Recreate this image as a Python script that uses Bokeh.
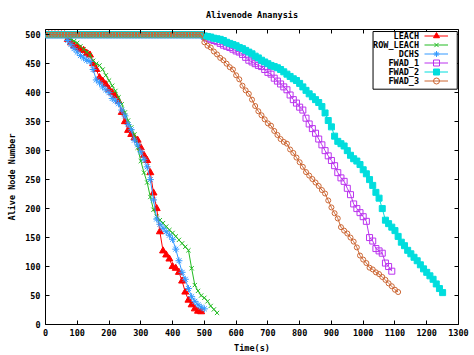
from bokeh.plotting import figure
from bokeh.models import (Range1d, LinearAxis, Legend, LegendItem, Label,
                          BoxAnnotation, FixedTicker, CustomJSTickFormatter)
from bokeh.embed import file_html
from bokeh.resources import INLINE

# ---------------- data ----------------
flat_6 = [500, 500, 500, 500, 500, 500]
flat_50 = [500, 500, 500, 500, 500, 500, 500, 500, 500, 500,
           500, 500, 500, 500, 500, 500, 500, 500, 500, 500,
           500, 500, 500, 500, 500, 500, 500, 500, 500, 500,
           500, 500, 500, 500, 500, 500, 500, 500, 500, 500,
           500, 500, 500, 500, 500, 500, 500, 500, 500, 500]

leach_alive = flat_6 + [500, 492, 486, 481, 478, 475, 473, 468, 465, 450,
                        440, 426, 420, 414, 406, 400, 395, 385, 366, 350,
                        335, 328, 322, 318, 305, 292, 283, 262, 227, 200,
                        160, 127, 120, 113, 100, 97, 90, 75, 56, 42,
                        34, 27, 23, 22]
row_leach_alive = flat_6 + [500, 496, 492, 489, 486, 480, 475, 470, 465, 455,
                            450, 447, 440, 430, 421, 412, 403, 392, 380, 366,
                            352, 340, 328, 305, 282, 262, 245, 220, 198, 186,
                            180, 175, 169, 163, 158, 152, 146, 140, 134, 128,
                            97, 68, 58, 50, 46, 40, 32, 26, 20]
dchs_alive = flat_6 + [500, 490, 483, 476, 470, 464, 460, 456, 454, 440,
                       422, 417, 410, 405, 400, 390, 386, 381, 370, 360,
                       345, 336, 318, 310, 298, 285, 272, 250, 215, 182,
                       173, 166, 160, 154, 147, 130, 110, 90, 78, 62,
                       48, 40, 34, 30, 27]
fwad1_alive = flat_50 + [497, 494, 492, 490, 488, 485, 482, 480, 478, 475,
                         472, 470, 466, 461, 456, 453, 450, 447, 445, 440,
                         435, 432, 425, 420, 415, 410, 405, 396, 388, 382,
                         375, 370, 356, 346, 338, 330, 320, 310, 300, 291,
                         283, 274, 262, 253, 247, 235, 224, 208, 200, 193,
                         186, 178, 150, 144, 131, 127, 123, 106, 100, 92]
fwad2_alive = flat_50 + [498, 497, 496, 494, 493, 492, 490, 487, 485, 483,
                         481, 478, 476, 473, 470, 467, 463, 460, 456, 453,
                         450, 447, 445, 443, 440, 436, 432, 428, 424, 421,
                         416, 410, 404, 398, 393, 388, 383, 376, 365, 352,
                         341, 325, 316, 312, 308, 300, 292, 286, 282, 276,
                         267, 260, 250, 240, 228, 218, 200, 180, 174, 168,
                         162, 152, 142, 136, 128, 122, 116, 110, 103, 96,
                         90, 84, 78, 70, 62, 55]
fwad3_alive = flat_50 + [487, 481, 478, 471, 466, 460, 456, 450, 444, 440,
                         430, 423, 412, 404, 398, 388, 377, 368, 361, 354,
                         347, 343, 334, 327, 320, 315, 312, 302, 296, 288,
                         280, 272, 263, 257, 251, 245, 239, 232, 226, 214,
                         202, 192, 183, 168, 162, 157, 150, 143, 133, 119,
                         112, 106, 98, 95, 90, 87, 82, 77, 71, 66,
                         60, 56]

sample_step = 10  # seconds between samples
chart_title = "Alivenode Ananysis"
series_names = ["LEACH", "ROW_LEACH", "DCHS", "FWAD_1", "FWAD_2", "FWAD_3"]
series_values = [leach_alive, row_leach_alive, dchs_alive,
                 fwad1_alive, fwad2_alive, fwad3_alive]
x_ticks = [0, 100, 200, 300, 400, 500, 600, 700, 800, 900, 1000, 1100, 1200, 1300]
y_ticks = [0, 50, 100, 150, 200, 250, 300, 350, 400, 450, 500]

# ---------------- styles ----------------
colors = ["#ff0000", "#22bb22", "#3399ff", "#bb33ee", "#00dddd", "#cc6633"]
markers = ["triangle", "x", "asterisk", "square", "square", "circle"]
sizes = [7, 6, 7, 6, 6, 5]
filled = [True, False, False, False, True, False]

FONT = "DejaVu Sans Mono"

p = figure(width=474, height=355, x_range=Range1d(0, 1300), y_range=Range1d(0, 509),
           output_backend="svg", toolbar_location=None,
           min_border_left=45, min_border_right=16, min_border_top=29, min_border_bottom=29)

p.grid.visible = False
p.outline_line_color = "black"
p.outline_line_width = 1
p.outline_line_alpha = 1

for ax in (p.xaxis[0], p.yaxis[0]):
    ax.axis_line_color = None
    ax.major_tick_in = 4
    ax.major_tick_out = 0
    ax.minor_tick_line_color = None
    ax.major_tick_line_color = "black"
    ax.major_label_text_font = FONT
    ax.major_label_text_font_size = "8.5px"
    ax.major_label_text_font_style = "bold"
    ax.major_label_text_color = "black"
    ax.axis_label_text_font = FONT
    ax.axis_label_text_font_size = "8.5px"
    ax.axis_label_text_font_style = "bold"
    ax.axis_label_text_color = "black"

p.xaxis[0].ticker = FixedTicker(ticks=x_ticks)
p.yaxis[0].ticker = FixedTicker(ticks=y_ticks)
p.xaxis[0].axis_label = "Time(s)"
p.yaxis[0].axis_label = "Alive Node Number"
p.xaxis[0].major_label_standoff = 4
p.yaxis[0].major_label_standoff = 5
p.xaxis[0].axis_label_standoff = 4
p.yaxis[0].axis_label_standoff = 5

# mirrored tick marks on top and right; the top one also carries the title
for loc, ticks in (("above", x_ticks), ("right", y_ticks)):
    ax = LinearAxis(ticker=FixedTicker(ticks=ticks),
                    formatter=CustomJSTickFormatter(code="return ''"))
    ax.axis_line_color = None
    ax.major_tick_in = 4
    ax.major_tick_out = 0
    ax.minor_tick_line_color = None
    ax.major_label_standoff = 0
    ax.major_label_text_font_size = "1px"
    if loc == "above":
        ax.axis_label = chart_title
        ax.axis_label_standoff = 10
        ax.axis_label_text_font = FONT
        ax.axis_label_text_font_size = "8.5px"
        ax.axis_label_text_font_style = "bold"
        ax.axis_label_text_color = "black"
    p.add_layout(ax, loc)

items = []
for name, vals, c, m, s, f in zip(series_names, series_values, colors, markers, sizes, filled):
    xs = [i * sample_step for i in range(len(vals))]
    ln = p.line(xs, vals, line_color=c, line_width=1)
    sc = p.scatter(xs, vals, marker=m, size=s, line_color=c, line_width=1,
                   fill_color=c if f else None)
    items.append(LegendItem(label=" ", renderers=[ln, sc]))

# legend box
box = BoxAnnotation(left=1031, right=1296, top=505.5, bottom=406,
                    fill_color="white", fill_alpha=1, line_color="black",
                    line_width=1, line_alpha=1)
p.add_layout(box)

# one single-row legend per series so that the sample sits right of its name
row_bottoms = [280.8, 271.8, 262.8, 253.8, 244.8, 235.8]  # screen px from frame bottom
for item, yb in zip(items, row_bottoms):
    lg = Legend(items=[item], location=(379, yb), orientation="vertical",
                glyph_width=24, glyph_height=15, label_height=15, label_width=0,
                label_standoff=0, padding=0, spacing=0, margin=0,
                border_line_alpha=0, background_fill_alpha=0,
                label_text_font_size="1px")
    p.add_layout(lg)

row_y = [497.5, 482.0, 466.6, 451.2, 435.8, 420.4]
for name, yy in zip(series_names, row_y):
    p.add_layout(Label(x=1176, y=yy, text=name, text_align="right",
                       text_baseline="middle", text_font=FONT,
                       text_font_size="8.5px", text_font_style="bold",
                       text_color="black"))

open("out.html", "w").write(file_html(p, INLINE))
